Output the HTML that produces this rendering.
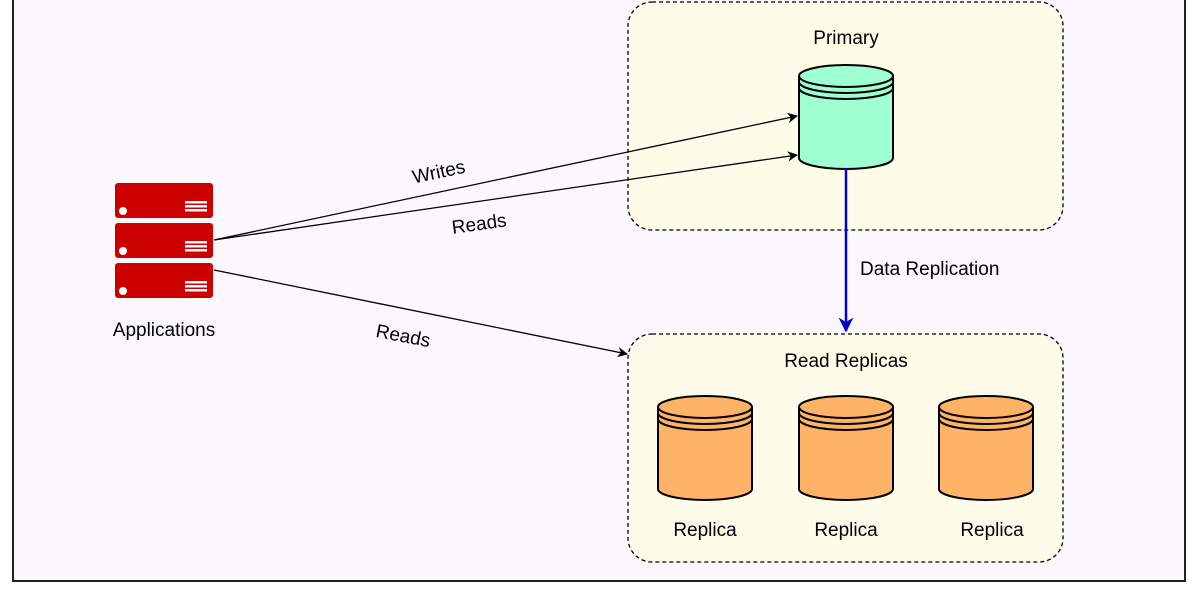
<!DOCTYPE html>
<html><head><style>
body{margin:0;width:1200px;height:600px;background:#fff;overflow:hidden}
svg text{font-family:"Comic Sans MS","Liberation Sans",sans-serif;font-size:19px;fill:#000}
</style></head><body>
<svg width="1200" height="600" viewBox="0 0 1200 600">
<defs>
<marker id="a" viewBox="0 0 10 10" refX="9" refY="5" markerWidth="8" markerHeight="8" orient="auto"><path d="M0,0 L10,5 L0,10 L3,5z" fill="#000"/></marker>
<marker id="b" viewBox="0 0 10 10" refX="9" refY="5" markerWidth="6" markerHeight="6" orient="auto"><path d="M0,0 L10,5 L0,10 L3,5z" fill="#0000cc"/></marker>
<g id="cyl">
<path d="M0,11 L0,93 A47,11 0 0 0 94,93 L94,11" stroke="#000" stroke-width="2"/>
<ellipse cx="47" cy="11" rx="47" ry="11" stroke="#000" stroke-width="2"/>
<path d="M0,17 A47,11 0 0 0 94,17 M0,23 A47,11 0 0 0 94,23" fill="none" stroke="#000" stroke-width="2"/>
</g>
</defs>
<rect x="13" y="-5" width="1172" height="586" fill="#fbf8fd" stroke="#222" stroke-width="2"/>
<rect x="628" y="2" width="435" height="228" rx="24" fill="#fffbe9" stroke="#000" stroke-width="1.3" stroke-dasharray="4,3"/>
<rect x="628" y="334" width="435" height="228" rx="24" fill="#fffbe9" stroke="#000" stroke-width="1.3" stroke-dasharray="4,3"/>
<text x="846" y="44" text-anchor="middle">Primary</text>
<text x="846" y="367" text-anchor="middle">Read Replicas</text>
<g fill="#9effd0"><use href="#cyl" x="799" y="65"/></g>
<g fill="#ffb366"><use href="#cyl" x="658" y="396"/><use href="#cyl" x="799" y="396"/><use href="#cyl" x="939" y="396"/></g>
<text x="705" y="536" text-anchor="middle">Replica</text>
<text x="846" y="536" text-anchor="middle">Replica</text>
<text x="992" y="536" text-anchor="middle">Replica</text>
<g fill="#cc0000">
<rect x="115" y="183" width="98" height="35" rx="3"/><rect x="115" y="223" width="98" height="35" rx="3"/><rect x="115" y="263" width="98" height="35" rx="3"/>
</g>
<g fill="#fff">
<circle cx="123" cy="211" r="4"/><circle cx="123" cy="251" r="4"/><circle cx="123" cy="291" r="4"/>
<rect x="185" y="201" width="22" height="2.5"/><rect x="185" y="205" width="22" height="2.5"/><rect x="185" y="209" width="22" height="2.5"/>
<rect x="185" y="241" width="22" height="2.5"/><rect x="185" y="245" width="22" height="2.5"/><rect x="185" y="249" width="22" height="2.5"/>
<rect x="185" y="281" width="22" height="2.5"/><rect x="185" y="285" width="22" height="2.5"/><rect x="185" y="289" width="22" height="2.5"/>
</g>
<text x="164" y="336" text-anchor="middle">Applications</text>
<line x1="214" y1="240" x2="797" y2="116" stroke="#000" stroke-width="1.3" marker-end="url(#a)"/>
<line x1="214" y1="240" x2="797" y2="155" stroke="#000" stroke-width="1.3" marker-end="url(#a)"/>
<line x1="214" y1="270" x2="627" y2="354" stroke="#000" stroke-width="1.3" marker-end="url(#a)"/>
<text x="440" y="178" text-anchor="middle" transform="rotate(-12 440 178)">Writes</text>
<text x="480" y="230" text-anchor="middle" transform="rotate(-8 480 230)">Reads</text>
<text x="402" y="342" text-anchor="middle" transform="rotate(11 402 342)">Reads</text>
<line x1="846" y1="168" x2="846" y2="331" stroke="#0000cc" stroke-width="2.5" marker-end="url(#b)"/>
<text x="860" y="275">Data Replication</text>
</svg>
</body></html>
